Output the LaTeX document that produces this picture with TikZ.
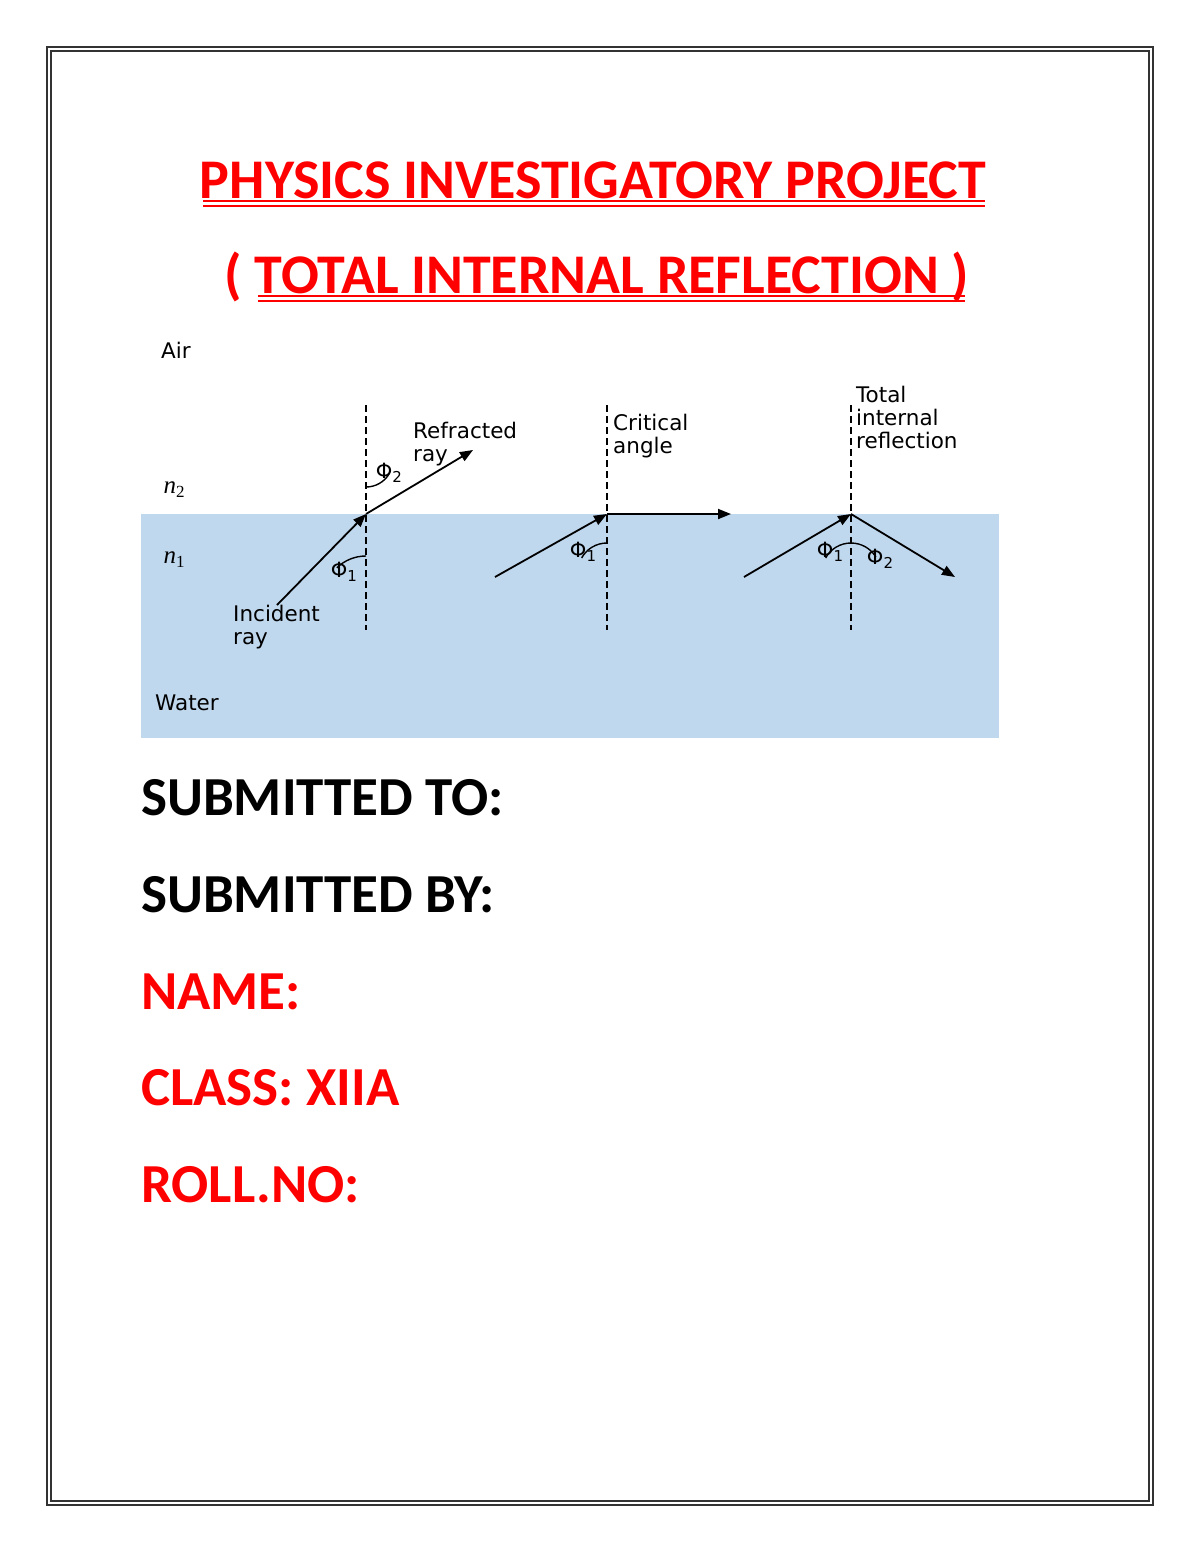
\documentclass[tikz,border=0pt]{standalone}
\usepackage{fontspec}
\setmainfont{Carlito}
\newfontfamily\dv{DejaVu Sans}
\newfontfamily\ls{Liberation Serif}
\usetikzlibrary{arrows.meta}
\definecolor{water}{HTML}{C0D8EE}
\definecolor{tred}{HTML}{FF0000}
\newcommand{\phisub}[1]{{\dv Φ\raisebox{-4pt}{\fontsize{15}{15}\selectfont #1}}}
\newcommand{\nsub}[1]{{\ls\itshape\fontsize{25}{25}\selectfont n\raisebox{-4pt}{\upshape\fontsize{17}{17}\selectfont #1}}}
\begin{document}
\begin{tikzpicture}[x=1pt,y=-1pt,
  lbl/.style={font=\dv\fontsize{21.5}{23}\selectfont,inner sep=0pt,align=left},
  sym/.style={font=\fontsize{21}{23}\selectfont,inner sep=0pt},
  ray/.style={line width=1.8pt,-{Triangle[length=13pt,width=10pt]}},
  normal/.style={line width=1.7pt,dash pattern=on 7pt off 4pt},
  ttl/.style={font=\bfseries\fontsize{56}{60}\selectfont,text=tred,inner sep=0pt,anchor=base},
  sub/.style={font=\bfseries\fontsize{55}{58}\selectfont,inner sep=0pt,anchor=base west}]
\useasboundingbox (0,0) rectangle (1200,1553);
\fill[white] (0,0) rectangle (1200,1553);
\draw[line width=1.5pt,black!80] (47,47) rectangle (1153,1505);
\draw[line width=1.5pt,black!80] (51,51) rectangle (1149,1501);
% titles
\node[ttl] (t1) at (593,198) {PHYSICS INVESTIGATORY PROJECT};
\draw[tred,line width=2pt] (203,201) -- (985,201) (203,206) -- (985,206);
\node[ttl] (t2) at (597,293) {( TOTAL INTERNAL REFLECTION )};
\draw[tred,line width=2pt] (258,296) -- (965,296) (258,301) -- (965,301);
% water
\fill[water] (141,514) rectangle (999,738);
\node[lbl] (air) at (176,350) {Air};
\node[sym] (n2) at (174,490) {\nsub{2}};
\node[sym] (n1) at (174,560) {\nsub{1}};
\node[lbl] (water) at (187,703) {Water};
% ray 1
\coordinate (p1) at (366,514);
\coordinate (a1) at (277,605);
\coordinate (r1) at (473,450);
\draw[normal] (366,405) -- (366,630);
\draw[ray] (a1) -- (p1);
\draw[ray] (p1) -- (r1);
\draw[line width=1.4pt] (366,487) arc[start angle=90,end angle=31,radius=27];
\draw[line width=1.4pt] (366,556) arc[start angle=270,end angle=226,radius=42];
\node[sym] at (389,473) {\phisub{2}};
\node[sym] at (344,572) {\phisub{1}};
\node[lbl,anchor=north west] (inc) at (233,605) {Incident\\ray};
\node[lbl,anchor=north west] (refr) at (413,422) {Refracted\\ray};
% ray 2
\coordinate (p2) at (607,514);
\draw[normal] (607,405) -- (607,630);
\draw[ray] (495,577) -- (p2);
\draw[ray] (p2) -- (731,514);
\draw[line width=1.4pt] (607,543) arc[start angle=270,end angle=209,radius=29];
\node[sym] at (583,552) {\phisub{1}};
\node[lbl,anchor=north west] (crit) at (613,414) {Critical\\angle};
% ray 3
\coordinate (p3) at (851,514);
\draw[normal] (851,405) -- (851,630);
\draw[ray] (744,577) -- (p3);
\draw[ray] (p3) -- (955,577);
\draw[line width=1.4pt] (851,543) arc[start angle=270,end angle=209,radius=29];
\draw[line width=1.4pt] (851,543) arc[start angle=270,end angle=329,radius=29];
\node[sym] at (830,552) {\phisub{1}};
\node[sym] at (880,559) {\phisub{2}};
\node[lbl,anchor=north west] (tir) at (856,386) {Total\\internal\\reflection};
% bottom
\node[sub] (s1) at (141,815) {SUBMITTED TO:};
\node[sub] (s2) at (141,912) {SUBMITTED BY:};
\node[sub,text=tred] (s3) at (141,1009) {NAME:};
\node[sub,text=tred] (s4) at (141,1105) {CLASS: XIIA};
\node[sub,text=tred] (s5) at (141,1202) {ROLL.NO:};
\end{tikzpicture}
\end{document}
